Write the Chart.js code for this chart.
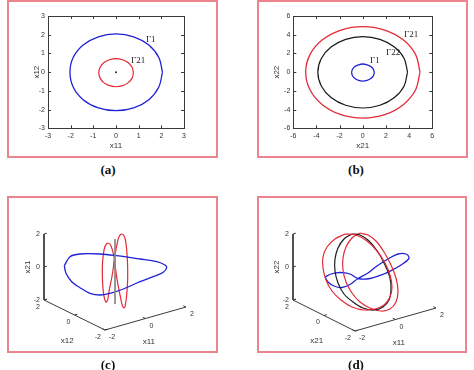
<!DOCTYPE html>
<html>
<head>
<meta charset="utf-8">
<script src="https://cdn.jsdelivr.net/npm/chart.js@4/dist/chart.umd.min.js"></script>
<style>
  html,body{margin:0;padding:0;background:#fff;}
  body{width:474px;height:370px;position:relative;overflow:hidden;font-family:"Liberation Sans",Arial,sans-serif;}
  .frame{position:absolute;box-sizing:border-box;border:2px solid #ec848d;}
  canvas{position:absolute;}
  .cap{position:absolute;width:40px;margin-left:-20px;text-align:center;font:bold 13px "Liberation Serif","Times New Roman",serif;color:#111;line-height:14px;}
</style>
</head>
<body>
<div class="frame" style="left:7px;top:0;width:211px;height:158px"></div>
<div class="frame" style="left:257px;top:0;width:211px;height:158px"></div>
<div class="frame" style="left:7px;top:196px;width:211px;height:157px"></div>
<div class="frame" style="left:257px;top:196px;width:210px;height:157px"></div>

<canvas id="ca" width="237" height="160" style="left:0;top:0"></canvas>
<canvas id="cb" width="237" height="160" style="left:237px;top:0"></canvas>
<canvas id="cc" width="237" height="185" style="left:0;top:185px"></canvas>
<canvas id="cd" width="237" height="185" style="left:237px;top:185px"></canvas>

<div class="cap" style="left:108px;top:163px">(a)</div>
<div class="cap" style="left:356px;top:163px">(b)</div>
<div class="cap" style="left:108px;top:358px">(c)</div>
<div class="cap" style="left:356px;top:358px">(d)</div>

<script>
// ---------------- DATA ----------------
// (a) phase portrait x11-x12
const ticksA = [-3, -2, -1, 0, 1, 2, 3];
const gamma1A_x  = [2.05, 1.89, 1.45, 0.78, 0, -0.78, -1.45, -1.89, -2.03, -1.89, -1.45, -0.78, 0, 0.78, 1.45, 1.89, 2.05];
const gamma1A_y  = [0, 0.78, 1.45, 1.89, 2.04, 1.89, 1.45, 0.78, 0, -0.79, -1.47, -1.91, -2.06, -1.91, -1.47, -0.79, 0];
const gamma21A_x = [0.77, 0.71, 0.54, 0.29, 0, -0.29, -0.54, -0.70, -0.76, -0.70, -0.54, -0.29, 0, 0.29, 0.54, 0.71, 0.77];
const gamma21A_y = [-0.03, 0.26, 0.50, 0.66, 0.72, 0.66, 0.50, 0.26, -0.03, -0.32, -0.56, -0.72, -0.78, -0.72, -0.56, -0.32, -0.03];
const originA = [0, 0];
const labelsA = [{text: 'Γ1', x: 1.32, y: 1.76}, {text: 'Γ21', x: 0.66, y: 0.61}];

// (b) phase portrait x21-x22
const ticksB = [-6, -4, -2, 0, 2, 4, 6];
const gamma21B_x = [4.94, 4.56, 3.49, 1.89, 0, -1.89, -3.49, -4.56, -4.93, -4.56, -3.49, -1.89, 0, 1.89, 3.49, 4.56, 4.94];
const gamma21B_y = [0, 1.87, 3.45, 4.50, 4.87, 4.50, 3.45, 1.87, 0, -1.88, -3.48, -4.55, -4.92, -4.55, -3.48, -1.88, 0];
const gamma22B_x = [3.86, 3.57, 2.73, 1.48, 0, -1.48, -2.74, -3.58, -3.88, -3.58, -2.74, -1.48, 0, 1.48, 2.73, 3.57, 3.86];
const gamma22B_y = [0, 1.46, 2.68, 3.50, 3.79, 3.50, 2.68, 1.46, 0, -1.47, -2.71, -3.54, -3.83, -3.54, -2.71, -1.47, 0];
const gamma1B_x  = [1.00, 0.91, 0.69, 0.37, 0, -0.37, -0.68, -0.89, -0.96, -0.89, -0.68, -0.37, 0, 0.37, 0.69, 0.91, 1.00];
const gamma1B_y  = [-0.04, 0.31, 0.60, 0.79, 0.87, 0.79, 0.60, 0.31, -0.04, -0.39, -0.68, -0.87, -0.95, -0.87, -0.68, -0.39, -0.04];
const labelsB = [{text: 'Γ21', x: 3.56, y: 3.97}, {text: 'Γ22', x: 2.0, y: 2.08}, {text: 'Γ1', x: 0.62, y: 1.22}];

// 3-D views (c), (d): curves read in the projected view plane (u right, v down)
const ticks3D = [-2, 0, 2];
// (c) axes: vertical x21 (2 -> -2), x12 (2 -> -2), x11 (-2 -> 2)
const cAxisZ = [[44, 49], [44, 115]];
const cAxisA = [[44, 115], [105, 145]];
const cAxisB = [[105, 145], [186, 122]];
const cBlue_u = [64.3, 70, 80, 100, 116.7, 140, 156.7, 165, 166.7, 163.3, 153.3, 140, 123.3, 110, 100, 90, 80, 71.7, 66, 64.3];
const cBlue_v = [80.7, 71.7, 69, 69, 70.7, 74, 76.7, 80, 82.7, 87.3, 91.7, 96.7, 104, 108.3, 110, 108.3, 102.7, 96.7, 88.3, 80.7];
const cRed_u = [107.3, 105, 103.3, 102.3, 102.7, 104, 106, 107.7, 109, 111.7, 113.3, 114.3, 116.3, 118.3, 120.3, 121.7, 123.7, 125.7, 127.3, 127.7, 126.7, 125.3, 124.3, 122.3, 120.3, 118.3, 116.3, 114.3, 112.3, 110, 107.3];
const cRed_v = [58, 61.3, 69.7, 83, 99.7, 111.3, 117, 114.7, 106.3, 93, 83, 73.7, 63, 53.7, 49.7, 49, 50.3, 56.3, 73, 93, 109.7, 120.3, 123, 120.3, 111.3, 101.3, 89.7, 73.7, 64.7, 59, 58];
const cGray_u = [115, 115];
const cGray_v = [54, 119];

// (d) axes: vertical x22 (2 -> -2), x21 (2 -> -2), x11 (-2 -> 2)
const dAxisZ = [[56, 49], [56, 115]];
const dAxisA = [[56, 115], [118, 146]];
const dAxisB = [[118, 146], [199, 123]];
const dRedA_u = [108, 98, 90, 86, 86, 89, 95, 104, 115, 127, 138, 147, 153, 155, 153, 148, 140, 130, 119, 108];
const dRedA_v = [49, 54, 62, 72, 83, 95, 106, 115, 122, 125, 124, 120, 112, 102, 90, 78, 66, 56, 50, 49];
const dBlack_u = [115, 107, 101, 98, 98, 101, 107, 116, 126, 137, 146, 152, 154, 153, 148, 141, 132, 123, 115];
const dBlack_v = [49, 54, 63, 74, 86, 98, 109, 117, 123, 125, 122, 115, 105, 93, 80, 67, 56, 50, 49];
const dRedC_u = [123, 115, 109, 106, 106, 109, 115, 123, 133, 144, 153, 159, 161, 159, 154, 147, 139, 131, 123];
const dRedC_v = [48, 53, 62, 73, 85, 97, 108, 117, 123, 126, 124, 117, 106, 93, 80, 67, 56, 50, 48];
const dBlue_u = [88, 94, 103, 113, 121, 133, 147, 158, 167, 172, 169, 161, 151, 140, 131, 121, 113, 105, 97, 91, 88];
const dBlue_v = [92, 89, 87.5, 89, 93.5, 93.5, 89, 83.5, 78, 73, 69, 69, 74, 81, 88, 93.5, 99.5, 102.5, 101, 97, 92];

// ---------------- STYLE / HELPERS ----------------
const BLUE = '#2020d8', RED = '#e42a36', BLACK = '#1a1a1a', AXIS = '#3a3a3a';
Chart.defaults.font.family = '"Liberation Sans", Arial, sans-serif';
const zip = (xs, ys) => xs.map((x, i) => ({x: x, y: ys[i]}));
const pairs = arr => arr.map(p => ({x: p[0], y: p[1]}));
const curve = (data, color, w, t) => ({data, borderColor: color, borderWidth: w, showLine: true, tension: t, pointRadius: 0, fill: false});

const boxPlugin = {
  id: 'box',
  afterDraw(chart) {
    const {ctx, chartArea: a, scales} = chart;
    const o = chart.options.plugins.box;
    ctx.save();
    ctx.strokeStyle = AXIS; ctx.lineWidth = 1;
    ctx.strokeRect(Math.round(a.left) + 0.5, Math.round(a.top) + 0.5, Math.round(a.right - a.left), Math.round(a.bottom - a.top));
    ctx.beginPath();
    o.ticks.forEach(v => {
      const px = Math.round(scales.x.getPixelForValue(v)) + 0.5;
      ctx.moveTo(px, a.bottom); ctx.lineTo(px, a.bottom - 3);
      ctx.moveTo(px, a.top); ctx.lineTo(px, a.top + 3);
      const py = Math.round(scales.y.getPixelForValue(v)) + 0.5;
      ctx.moveTo(a.left, py); ctx.lineTo(a.left + 3, py);
      ctx.moveTo(a.right, py); ctx.lineTo(a.right - 3, py);
    });
    ctx.stroke();
    ctx.fillStyle = '#222';
    ctx.font = '9px "Liberation Serif", "Times New Roman", serif';
    ctx.textAlign = 'left'; ctx.textBaseline = 'middle';
    o.labels.forEach(l => ctx.fillText(l.text, scales.x.getPixelForValue(l.x), scales.y.getPixelForValue(l.y)));
    ctx.restore();
  }
};

function planeChart(id, datasets, ticks, labels, titles, pad, yW, yTitlePad) {
  return new Chart(document.getElementById(id), {
    type: 'scatter',
    data: {datasets},
    options: {
      responsive: false, animation: false, events: [],
      layout: {padding: pad},
      plugins: {legend: {display: false}, tooltip: {enabled: false}, box: {ticks, labels}},
      scales: {
        x: {type: 'linear', min: ticks[0], max: ticks[ticks.length - 1],
            afterFit: s => { s.height = 31.7; },
            afterBuildTicks: s => { s.ticks = ticks.map(v => ({value: v})); },
            grid: {display: false, drawTicks: false}, border: {display: false},
            ticks: {font: {size: 7}, color: '#333', padding: 4, maxRotation: 0},
            title: {display: true, text: titles[0], font: {size: 8}, color: '#333', padding: {top: 0, bottom: 9.5}}},
        y: {type: 'linear', min: ticks[0], max: ticks[ticks.length - 1],
            afterFit: s => { s.width = yW; },
            afterBuildTicks: s => { s.ticks = ticks.map(v => ({value: v})); },
            grid: {display: false, drawTicks: false}, border: {display: false},
            ticks: {font: {size: 7}, color: '#333', padding: 3},
            title: {display: true, text: titles[1], font: {size: 8}, color: '#333', padding: {top: yTitlePad, bottom: 0}}}
      }
    },
    plugins: [boxPlugin]
  });
}

planeChart('ca', [
  curve(zip(gamma1A_x, gamma1A_y), BLUE, 1.3, 0.34),
  curve(zip(gamma21A_x, gamma21A_y), RED, 1.2, 0.34),
  {data: [{x: originA[0], y: originA[1]}], pointRadius: 1, backgroundColor: '#222', borderWidth: 0, showLine: false}
], ticksA, labelsA, ['x11', 'x12'], {left: 0, right: 53, top: 16, bottom: 0}, 48, 31.5);

planeChart('cb', [
  curve(zip(gamma21B_x, gamma21B_y), RED, 1.3, 0.34),
  curve(zip(gamma22B_x, gamma22B_y), BLACK, 1.2, 0.34),
  curve(zip(gamma1B_x, gamma1B_y), BLUE, 1.3, 0.34)
], ticksB, labelsB, ['x21', 'x22'], {left: 0, right: 41.7, top: 16, bottom: 0}, 56.3, 34.5);

// 3-D box axes: ticks and labels placed along the axis lines by tick value
const axes3DPlugin = {
  id: 'axes3d',
  afterDraw(chart) {
    const {ctx, scales} = chart;
    const o = chart.options.plugins.axes3d;
    const P = p => [scales.x.getPixelForValue(p[0]), scales.y.getPixelForValue(p[1])];
    const along = (ax, v, v0, v1) => {
      const a = P(ax[0]), b = P(ax[1]); const f = (v - v0) / (v1 - v0);
      return [a[0] + f * (b[0] - a[0]), a[1] + f * (b[1] - a[1])];
    };
    const unit = (a, b) => { const dx = b[0] - a[0], dy = b[1] - a[1], L = Math.hypot(dx, dy); return [dx / L, dy / L]; };
    ctx.save();
    ctx.strokeStyle = AXIS; ctx.lineWidth = 1; ctx.fillStyle = '#333';
    ctx.font = '7px "Liberation Sans", Arial, sans-serif'; ctx.textBaseline = 'middle';
    const uA = unit(P(o.axA[0]), P(o.axA[1]));
    const uB = unit(P(o.axB[0]), P(o.axB[1]));
    ctx.beginPath();
    o.ticks.forEach(v => {
      let p = along(o.axZ, v, 2, -2);
      ctx.moveTo(p[0], p[1]); ctx.lineTo(p[0] + 3 * uB[0], p[1] + 3 * uB[1]);
      p = along(o.axA, v, 2, -2);
      ctx.moveTo(p[0], p[1]); ctx.lineTo(p[0] + 3 * uB[0], p[1] + 3 * uB[1]);
      p = along(o.axB, v, -2, 2);
      ctx.moveTo(p[0], p[1]); ctx.lineTo(p[0] - 3 * uA[0], p[1] - 3 * uA[1]);
    });
    ctx.stroke();
    o.ticks.forEach(v => {
      let p = along(o.axZ, v, 2, -2);
      ctx.textAlign = 'right'; ctx.fillText(String(v), p[0] - 4, p[1]);
      p = along(o.axA, v, 2, -2);
      ctx.fillText(String(v), p[0] - 4, p[1] + 7);
      p = along(o.axB, v, -2, 2);
      ctx.textAlign = 'left'; ctx.fillText(String(v), p[0] + 4, p[1] + 7.5);
    });
    ctx.font = '8px "Liberation Sans", Arial, sans-serif'; ctx.textAlign = 'center';
    const mA = along(o.axA, 0, 2, -2), mB = along(o.axB, 0, -2, 2), mZ = along(o.axZ, 0, 2, -2);
    ctx.fillText(o.titles[0], mA[0] - 7.3, mA[1] + 25.5);
    ctx.fillText(o.titles[1], mB[0] + 3.4, mB[1] + 23);
    ctx.translate(mZ[0] - 16.5, mZ[1]); ctx.rotate(-Math.PI / 2);
    ctx.fillText(o.titles[2], 0, 0);
    ctx.restore();
  }
};

function viewChart(id, datasets, axZ, axA, axB, titles) {
  const axisDs = [axZ, axA, axB].map(ax => curve(pairs(ax), AXIS, 1, 0));
  return new Chart(document.getElementById(id), {
    type: 'scatter',
    data: {datasets: axisDs.concat(datasets)},
    options: {
      responsive: false, animation: false, events: [],
      layout: {padding: 0},
      plugins: {legend: {display: false}, tooltip: {enabled: false},
                axes3d: {ticks: ticks3D, axZ, axA, axB, titles}},
      scales: {
        x: {type: 'linear', min: 0, max: 237, display: false},
        y: {type: 'linear', min: 0, max: 185, reverse: true, display: false}
      }
    },
    plugins: [axes3DPlugin]
  });
}

viewChart('cc', [
  curve(zip(cGray_u, cGray_v), '#8a8a8a', 1, 0),
  curve(zip(cBlue_u, cBlue_v), BLUE, 1.3, 0.35),
  curve(zip(cRed_u, cRed_v), RED, 1.2, 0.35)
], cAxisZ, cAxisA, cAxisB, ['x12', 'x11', 'x21']);

viewChart('cd', [
  curve(zip(dRedA_u, dRedA_v), RED, 1.2, 0.35),
  curve(zip(dBlack_u, dBlack_v), BLACK, 1.2, 0.35),
  curve(zip(dRedC_u, dRedC_v), RED, 1.2, 0.35),
  curve(zip(dBlue_u, dBlue_v), BLUE, 1.3, 0.35)
], dAxisZ, dAxisA, dAxisB, ['x21', 'x11', 'x22']);
</script>
</body>
</html>
